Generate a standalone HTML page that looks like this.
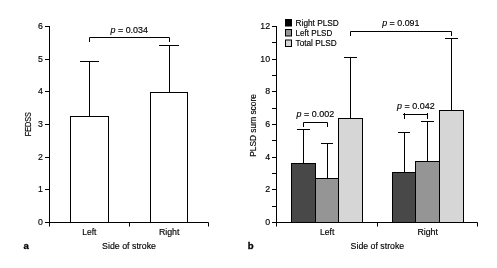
<!DOCTYPE html>
<html>
<head>
<meta charset="utf-8">
<title>Figure</title>
<style>
html,body{margin:0;padding:0;background:#fff;}
body{width:497px;height:268px;overflow:hidden;}
svg{display:block;}
text{font-family:"Liberation Sans",sans-serif;font-size:8.8px;fill:#000;stroke:#000;stroke-width:.15px;}
.b{font-weight:bold;font-size:9.6px;stroke-width:.3px;}
.i{font-style:italic;}
.ln{stroke:#000;stroke-width:1;fill:none;}
</style>
</head>
<body>
<svg width="497" height="268" viewBox="0 0 497 268">
<rect x="0" y="0" width="497" height="268" fill="#fff"/>

<!-- ===== Panel a ===== -->
<g id="panel-a">
  <!-- bars -->
  <rect class="ln" x="70.5" y="116.5" width="38" height="106" style="fill:#fff"/>
  <rect class="ln" x="150.5" y="92.5" width="37" height="130" style="fill:#fff"/>
  <!-- error bars -->
  <path class="ln" d="M89.5 116.5V61.5M80 61.5H99"/>
  <path class="ln" d="M169.5 92.5V45.5M159 45.5H179"/>
  <!-- bracket -->
  <path class="ln" d="M89.5 42V37.5H169.5V42"/>
  <text x="110.5" y="33" textLength="37.5" lengthAdjust="spacingAndGlyphs"><tspan class="i">p</tspan> = 0.034</text>
  <!-- axes -->
  <path class="ln" d="M49.5 26V226.5M45 222.5H208.5V226.5M129.5 222.5V226.5"/>
  <path class="ln" d="M45 26.5H49.5M45 59.5H49.5M45 91.5H49.5M45 124.5H49.5M45 157.5H49.5M45 189.5H49.5"/>
  <g text-anchor="end">
    <text x="42.8" y="29.1">6</text>
    <text x="42.8" y="61.8">5</text>
    <text x="42.8" y="94.4">4</text>
    <text x="42.8" y="127.0">3</text>
    <text x="42.8" y="159.7">2</text>
    <text x="42.8" y="192.3">1</text>
    <text x="42.8" y="224.9">0</text>
  </g>
  <text transform="translate(30.9 136.3) rotate(-90)" textLength="24.2" lengthAdjust="spacingAndGlyphs">FEDSS</text>
  <text x="82.3" y="234.9" textLength="14.2" lengthAdjust="spacingAndGlyphs">Left</text>
  <text x="158.9" y="234.9" textLength="20.6" lengthAdjust="spacingAndGlyphs">Right</text>
  <text x="102.1" y="249.1" textLength="53.9" lengthAdjust="spacingAndGlyphs">Side of stroke</text>
  <text class="b" x="23.5" y="249.1">a</text>
</g>

<!-- ===== Panel b ===== -->
<g id="panel-b">
  <!-- bars left group -->
  <rect class="ln" x="291.5" y="163.5" width="24" height="59" style="fill:#484848"/>
  <rect class="ln" x="315.5" y="178.5" width="23" height="44" style="fill:#959595"/>
  <rect class="ln" x="338.5" y="118.5" width="24" height="104" style="fill:#d6d6d6"/>
  <!-- bars right group -->
  <rect class="ln" x="392.5" y="172.5" width="23" height="50" style="fill:#484848"/>
  <rect class="ln" x="415.5" y="161.5" width="24" height="61" style="fill:#959595"/>
  <rect class="ln" x="439.5" y="110.5" width="24" height="112" style="fill:#d6d6d6"/>
  <!-- error bars -->
  <path class="ln" d="M303.5 163.5V129.5M297 129.5H310"/>
  <path class="ln" d="M327.5 178.5V143.5M321 143.5H333"/>
  <path class="ln" d="M350.5 118.5V57.5M344 57.5H357"/>
  <path class="ln" d="M404.5 172.5V132.5M398 132.5H410"/>
  <path class="ln" d="M427.5 161.5V121.5M421 121.5H434"/>
  <path class="ln" d="M451.5 110.5V38.5M445 38.5H458"/>
  <!-- brackets -->
  <path class="ln" d="M350.5 36V31.5H451.5V36"/>
  <text x="382.2" y="25.9" textLength="37.3" lengthAdjust="spacingAndGlyphs"><tspan class="i">p</tspan> = 0.091</text>
  <path class="ln" d="M303.5 127V122.5H327.5V127"/>
  <text x="296.6" y="116.6" textLength="37.5" lengthAdjust="spacingAndGlyphs"><tspan class="i">p</tspan> = 0.002</text>
  <path class="ln" d="M404.5 119V113M427.5 119V113M403 114.5H427.5"/>
  <text x="397.1" y="108.5" textLength="37.6" lengthAdjust="spacingAndGlyphs"><tspan class="i">p</tspan> = 0.042</text>
  <!-- axes -->
  <path class="ln" d="M276.5 26V226.5M272 222.5H477.5V226.5M377.5 222.5V226.5"/>
  <path class="ln" d="M272 26.5H276.5M272 42.5H276.5M272 59.5H276.5M272 75.5H276.5M272 91.5H276.5M272 108.5H276.5M272 124.5H276.5M272 140.5H276.5M272 157.5H276.5M272 173.5H276.5M272 189.5H276.5M272 206.5H276.5"/>
  <g text-anchor="end">
    <text x="270.1" y="29.1">12</text>
    <text x="270.1" y="61.8">10</text>
    <text x="270.1" y="94.4">8</text>
    <text x="270.1" y="127.0">6</text>
    <text x="270.1" y="159.7">4</text>
    <text x="270.1" y="192.3">2</text>
    <text x="270.1" y="224.9">0</text>
  </g>
  <text transform="translate(255.7 156.8) rotate(-90)" textLength="62.6" lengthAdjust="spacingAndGlyphs">PLSD sum score</text>
  <!-- legend -->
  <rect class="ln" x="285.5" y="19.5" width="6" height="6.5" style="fill:#000"/>
  <rect class="ln" x="285.5" y="29.5" width="6" height="6.5" style="fill:#959595"/>
  <rect class="ln" x="285.5" y="40" width="6" height="6.5" style="fill:#d6d6d6"/>
  <text x="295.6" y="25.7" textLength="43.2" lengthAdjust="spacingAndGlyphs">Right PLSD</text>
  <text x="295.6" y="35.9" textLength="36.7" lengthAdjust="spacingAndGlyphs">Left PLSD</text>
  <text x="295.6" y="46.3" textLength="41.1" lengthAdjust="spacingAndGlyphs">Total PLSD</text>
  <text x="320" y="234.7" textLength="14.4" lengthAdjust="spacingAndGlyphs">Left</text>
  <text x="417.4" y="234.7" textLength="20.6" lengthAdjust="spacingAndGlyphs">Right</text>
  <text x="350.6" y="249.1" textLength="53.6" lengthAdjust="spacingAndGlyphs">Side of stroke</text>
  <text class="b" x="247.7" y="249.1">b</text>
</g>
</svg>
</body>
</html>
